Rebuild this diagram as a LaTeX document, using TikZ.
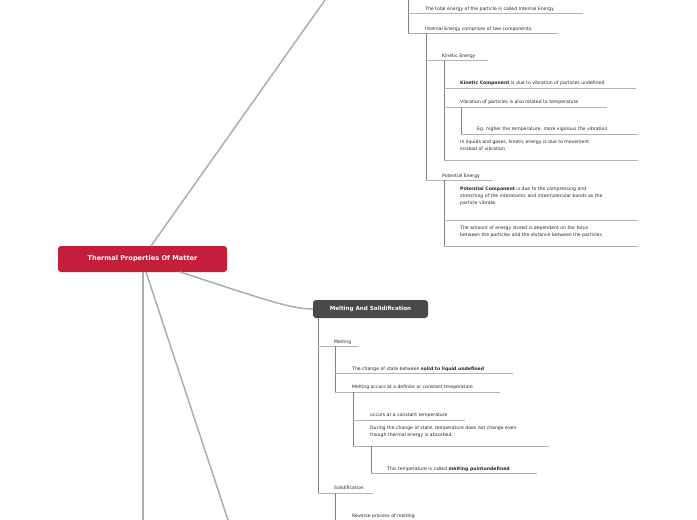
\documentclass[tikz,border=0pt]{standalone}
\usepackage{fontspec}
\setmainfont{DejaVu Sans}
\begin{document}
\begin{tikzpicture}[x=1pt,y=-1pt,
  txt/.style={anchor=base west,inner sep=0pt,font=\fontsize{4.6}{7}\selectfont,align=left,text=black!85},
  ul/.style={draw=black!30,line width=0.8pt},
  vl/.style={draw=black!50,line width=0.8pt},
  br/.style={draw=black!32,line width=1.5pt}]
\useasboundingbox (0,0) rectangle (697,520);
\definecolor{rootred}{HTML}{C41E3A}
\definecolor{dgray}{HTML}{4A4A4A}
% root
\node[fill=rootred,rounded corners=3pt,minimum width=169pt,minimum height=26pt,text=white,font=\fontsize{6.6}{8}\selectfont\bfseries] (root) at (142.5,259) {Thermal Properties Of Matter};
\node[fill=dgray,rounded corners=3pt,minimum width=115pt,minimum height=18pt,text=white,font=\fontsize{5.6}{7}\selectfont\bfseries] (melt) at (370.5,309) {Melting And Solidification};
\coordinate (topend) at (325,0);
\coordinate (b1) at (143,520);
\coordinate (b2) at (228,520);
\draw[br] (151,246) -- (topend);
\draw[br] (143,272) -- (b1);
\draw[br] (146,272) -- (b2);
\draw[br] (180,272) .. controls (260,298) and (290,309) .. (melt.west);
% top tree
\node[txt] (t1) at (425,10) {The total energy of the particle is called Internal Energy};
\node[txt] (t2) at (425,30) {Internal Energy comprises of two components:};
\draw[vl] (408,0) -- (408,33);
\draw[ul] (408,13) -- (583,13);
\draw[ul] (408,33) -- (558,33);
\draw[vl] (426,33) -- (426,180);
\node[txt] (ke) at (442,57) {Kinetic Energy};
\draw[ul] (426,60) -- (488,60);
\draw[vl] (444,60) -- (444,160);
\node[txt] (kc) at (460,84) {\textbf{Kinetic Component} is due to vibration of particles undefined};
\draw[ul] (444,88) -- (636,88);
\node[txt] (vp) at (460,103) {Vibration of particles is also related to temperature};
\draw[ul] (444,107) -- (607,107);
\draw[vl] (461,107) -- (461,134);
\node[txt] (eg) at (477,130) {Eg. higher the temperature, more vigorous the vibration};
\draw[ul] (461,134) -- (638,134);
\node[txt] (il) at (460,150) {In liquids and gases, kinetic energy is due to movement\\instead of vibration};
\draw[ul] (444,160) -- (638,160);
\node[txt] (pe) at (442,177) {Potential Energy};
\draw[ul] (426,180) -- (492,180);
\draw[vl] (444,180) -- (444,246);
\node[txt] (pc) at (460,204) {\textbf{Potential Component} is due to the compressing and\\stretching of the interatomic and intermolecular bonds as the\\particle vibrate.};
\draw[ul] (444,220) -- (638,220);
\node[txt] (am) at (460,236) {The amount of energy stored is dependent on the force\\between the particles and the distance between the particles};
\draw[ul] (444,246) -- (638,246);
% melting tree
\draw[vl] (318,318) -- (318,493);
\node[txt] (m1) at (334,343) {Melting};
\draw[ul] (318,346) -- (358,346);
\draw[vl] (335,346) -- (335,392);
\node[txt] (m2) at (352,370) {The change of state between \textbf{solid to liquid undefined}};
\draw[ul] (335,373) -- (513,373);
\node[txt] (m3) at (352,388) {Melting occurs at a definite or constant tmeperature};
\draw[ul] (335,392) -- (500,392);
\draw[vl] (353,392) -- (353,446);
\node[txt] (m4) at (370,416.5) {occurs at a constant temperature};
\draw[ul] (353,420) -- (465,420);
\node[txt] (m5) at (370,436) {During the change of state, temperature does not change even\\though thermal energy is absorbed.};
\draw[ul] (353,446) -- (549,446);
\draw[vl] (371,446) -- (371,473);
\node[txt] (m6) at (387,470) {This temperature is called \textbf{melting pointundefined}};
\draw[ul] (371,473) -- (537,473);
\node[txt] (s1) at (334,489) {Solidification};
\draw[ul] (318,493) -- (373,493);
\draw[vl] (335,493) -- (335,520);
\node[txt] (s2) at (352,517) {Reverse process of melting};
\draw[ul] (335,520) -- (430,520);
\end{tikzpicture}
\end{document}
